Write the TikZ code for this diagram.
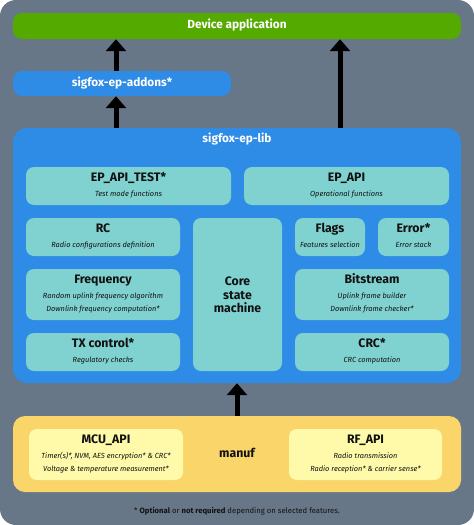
\documentclass[tikz,border=0pt]{standalone}
\usepackage{fontspec}
\setmainfont{Fira Sans}
\usetikzlibrary{arrows.meta}
\definecolor{bggray}{HTML}{687788}
\definecolor{appgreen}{HTML}{55AA00}
\definecolor{libblue}{HTML}{2E8BE6}
\definecolor{modteal}{HTML}{80D2D0}
\definecolor{manyel}{HTML}{FAD56A}
\definecolor{apiyel}{HTML}{FFFAAA}
\definecolor{txtdark}{HTML}{111111}
\tikzset{
  layer/.style={rounded corners=9pt, inner sep=0pt, draw=none},
  modbox/.style={rounded corners=8pt, fill=modteal, inner sep=0pt, draw=none},
  apibox/.style={rounded corners=8pt, fill=apiyel, inner sep=0pt, draw=none},
  wtitle/.style={text=white, font=\fontsize{11.8}{13}\selectfont\bfseries, anchor=mid, inner sep=0pt},
  ttl/.style={text=txtdark, font=\fontsize{12.3}{13.5}\selectfont\bfseries, anchor=mid, inner sep=0pt, align=center},
  sub/.style={text=txtdark, font=\fontsize{7.4}{13}\selectfont\itshape, anchor=mid, inner sep=0pt},
  bigarrow/.style={line width=5pt, -{Triangle[width=20pt,length=12pt]}, black},
}
\begin{document}
\begin{tikzpicture}[x=1pt,y=-1pt]
\useasboundingbox (0,0) rectangle (474,525);
\fill[bggray, rounded corners=16pt] (0,0) rectangle (474,525);
% layers
\node[layer, fill=appgreen, minimum width=448, minimum height=26] (app) at (237,26) {};
\node[wtitle] (appT) at (237,26) {Device application};
\node[layer, fill=libblue, minimum width=218, minimum height=25] (addons) at (122,83.5) {};
\node[wtitle] (addonsT) at (122,84) {sigfox-ep-addons*};
\node[layer, fill=libblue, rounded corners=14pt, minimum width=448, minimum height=255] (lib) at (237,255.5) {};
\node[wtitle] (libT) at (237,140) {sigfox-ep-lib};
% modules
\node[modbox, minimum width=205, minimum height=38] (eptest) at (128.5,186) {};
\node[ttl] (eptestT) at (128.5,179) {EP\_API\_TEST*};
\node[sub] (eptestS) at (128.5,194) {Test mode functions};
\node[modbox, minimum width=205, minimum height=38] (epapi) at (346.5,186) {};
\node[ttl] (epapiT) at (346.5,179) {EP\_API};
\node[sub] (epapiS) at (346.5,194) {Operational functions};
\node[modbox, minimum width=154, minimum height=38] (rc) at (103,237) {};
\node[ttl] (rcT) at (103,230) {RC};
\node[sub] (rcS) at (103,245) {Radio configurations definition};
\node[modbox, minimum width=89, minimum height=153] (core) at (237.5,294.5) {};
\node[ttl, anchor=center] (coreT) at (237.5,295) {Core\\state\\machine};
\node[modbox, minimum width=70, minimum height=38] (flags) at (330,237) {};
\node[ttl] (flagsT) at (330,230) {Flags};
\node[sub] (flagsS) at (330,245) {Features selection};
\node[modbox, minimum width=71, minimum height=38] (error) at (413.5,237) {};
\node[ttl] (errorT) at (413.5,230) {Error*};
\node[sub] (errorS) at (413.5,245) {Error stack};
\node[modbox, minimum width=154, minimum height=51] (freq) at (103,294.5) {};
\node[ttl] (freqT) at (103,281) {Frequency};
\node[sub] (freqS1) at (103,296) {Random uplink frequency algorithm};
\node[sub] (freqS2) at (103,309) {Downlink frequency computation*};
\node[modbox, minimum width=154, minimum height=51] (bits) at (372,294.5) {};
\node[ttl] (bitsT) at (372,281) {Bitstream};
\node[sub] (bitsS1) at (372,296) {Uplink frame builder};
\node[sub] (bitsS2) at (372,309) {Downlink frame checker*};
\node[modbox, minimum width=154, minimum height=38] (tx) at (103,352) {};
\node[ttl] (txT) at (103,345) {TX control*};
\node[sub] (txS) at (103,360) {Regulatory checks};
\node[modbox, minimum width=154, minimum height=38] (crc) at (372,352) {};
\node[ttl] (crcT) at (372,345) {CRC*};
\node[sub] (crcS) at (372,360) {CRC computation};
% manuf
\node[layer, fill=manyel, rounded corners=12pt, minimum width=448, minimum height=76] (manuf) at (237,454) {};
\node[ttl] (manufT) at (237,455) {manuf};
\node[apibox, minimum width=154, minimum height=51] (mcu) at (106,454.5) {};
\node[ttl] (mcuT) at (106,441) {MCU\_API};
\node[sub] (mcuS1) at (106,456) {Timer(s)*, NVM, AES encryption* \& CRC*};
\node[sub] (mcuS2) at (106,469) {Voltage \& temperature measurement*};
\node[apibox, minimum width=153, minimum height=51] (rf) at (365.5,454.5) {};
\node[ttl] (rfT) at (365.5,441) {RF\_API};
\node[sub] (rfS1) at (365.5,456) {Radio transmission};
\node[sub] (rfS2) at (365.5,469) {Radio reception* \& carrier sense*};
% footnote
\node[text=txtdark, font=\fontsize{7.7}{9}\selectfont, anchor=mid, inner sep=0pt] (note) at (237,511)
  {* \textbf{Optional} or \textbf{not required} depending on selected features.};
% arrows
\coordinate (xl) at (116,0);
\coordinate (xr) at (340,0);
\draw[bigarrow] (lib.north -| xl) -- (addons.south -| xl);
\draw[bigarrow] (addons.north -| xl) -- (app.south -| xl);
\draw[bigarrow] (lib.north -| xr) -- (app.south -| xr);
\draw[bigarrow] (manuf.north) -- (lib.south);
\end{tikzpicture}
\end{document}
